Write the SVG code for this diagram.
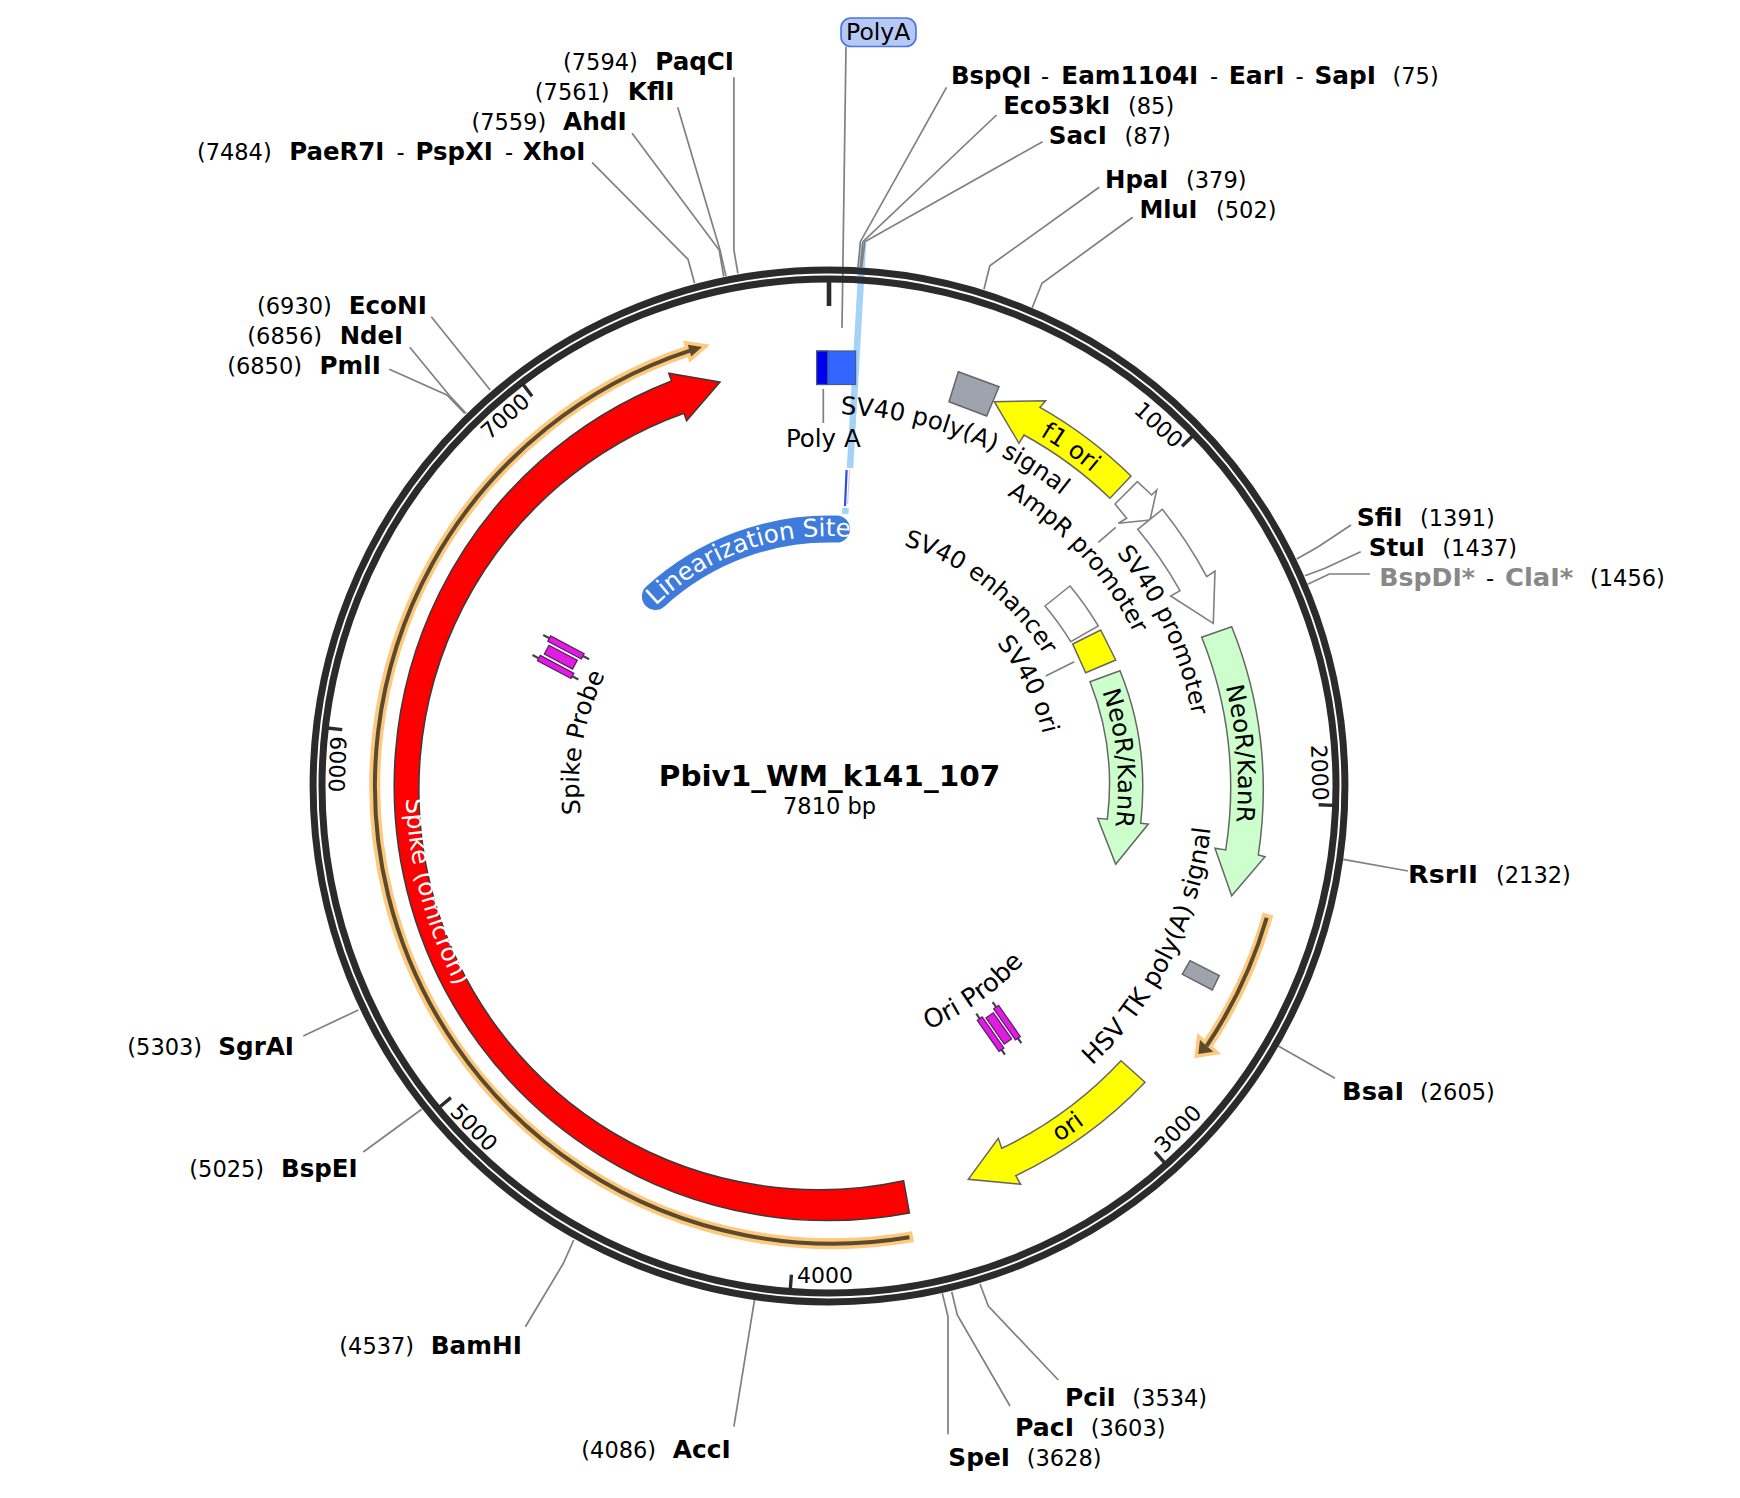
<svg xmlns="http://www.w3.org/2000/svg" width="1740" height="1498" viewBox="0 0 1740 1498">
<style>
text{font-family:"DejaVu Sans","Liberation Sans",sans-serif;fill:#000;font-size:22.5px}
.b{font-weight:bold;font-size:24px}
.g{fill:#888}
.c{font-size:24.5px}
.w{fill:#fff}
.m{text-anchor:middle}
.t{font-size:22px;text-anchor:middle}
.ring{fill:none;stroke:#2b2b2b}
.tick{stroke:#2b2b2b;stroke-width:3.4}
#connectors path{fill:none;stroke:#808080;stroke-width:1.7}
.feat{stroke:#666;stroke-width:1.5}
.halo{fill:none;stroke:#fcc97e;stroke-width:11}
.core{fill:none;stroke:#5c4a2c;stroke-width:4}
.hh{fill:#fcc97e;stroke:#fcc97e;stroke-width:7}
.hc{fill:#5c4a2c;stroke:none}
.stick{stroke:#444;stroke-width:2.2}
.pr{fill:#e01ce0;stroke:#5a1a6a;stroke-width:1.2}
</style>
<defs>
<path id="p-spike" d="M420.4 676.5A423 423 0 0 0 529.9 1085.1"/>
<path id="p-neo1" d="M1183.2 581.5A409 409 0 0 1 1210.8 932.6"/>
<path id="p-neo2" d="M1065.7 620.2A289 289 0 0 1 1093 903.5"/>
<path id="p-f1" d="M934.9 391A409 409 0 0 1 1168 557.3"/>
<path id="p-ori" d="M902.6 1203.6A424 424 0 0 0 1196.2 998"/>
<path id="p-lin" d="M612.5 661A250 250 0 0 1 918.6 552.6"/>
<path id="p-spr" d="M582.8 829.4A250 250 0 0 1 612.5 661"/>
<path id="p-opr" d="M874.7 1045A263 263 0 0 0 1056.8 917.5"/>
<path id="p-hsv" d="M1021 1118.6A384 384 0 0 0 1210.1 739.2"/>
<path id="p-sv40pa" d="M762.5 420A372 372 0 0 1 1116.9 550.4"/>
<path id="p-amp" d="M945.6 465.6A341 341 0 0 1 1158.4 697.7"/>
<path id="p-svp" d="M1066.8 502.6A370 370 0 0 1 1199 786"/>
<path id="p-sve" d="M829 534A252 252 0 0 1 1073.5 725"/>
<path id="p-svo" d="M970.4 617.5A220 220 0 0 1 1048.5 770.7"/>
</defs>

<g id="polyA-track">
<path d="M863 243L850 468" fill="none" stroke="#a5d2f7" stroke-width="6.5"/>
<path d="M846.6 470L845 506" fill="none" stroke="#2d4fe0" stroke-width="2.2"/>
<path d="M849.6 470L847.6 504" fill="none" stroke="#d8c0d0" stroke-width="1"/>
<path d="M845.6 508L845.2 514" fill="none" stroke="#a5d2f7" stroke-width="6.5"/>
</g>

<g id="connectors">
<path d="M858 267L860.4 241.7L946.5 87.3"/>
<path d="M860.4 267L863 241.7L996.5 115"/>
<path d="M861.7 267L864.8 241.7L1042.5 141.7"/>
<path d="M984 289.3L989.8 265.7L1099.2 187.3"/>
<path d="M1032.2 307.7L1042 283.3L1132.7 217.3"/>
<path d="M737.9 273.3L733.9 250L733.9 77.3"/>
<path d="M725.9 276L720 250L677.7 107.3"/>
<path d="M723.7 276.7L719.2 250L632.1 133.3"/>
<path d="M694.6 283.3L688 259.3L592 162.3"/>
<path d="M490.2 390L431.3 316.7"/>
<path d="M466 413.3L449 395L409.8 347.3"/>
<path d="M464.7 413.3L446.9 395L389.3 369.3"/>
<path d="M1296.7 559L1318.3 546.7L1351 525"/>
<path d="M1305 575.7L1325 568.3L1360.7 551.7"/>
<path d="M1307.7 584.3L1329.3 574L1370 574"/>
<path d="M1343.3 859.3L1408 871"/>
<path d="M1278.3 1046L1335 1078.3"/>
<path d="M358.3 1010L303.3 1036"/>
<path d="M421.7 1109.3L363.3 1152"/>
<path d="M573.7 1240L563.4 1263.3L525.4 1326.7"/>
<path d="M754.5 1300L733.9 1426.7"/>
<path d="M942.3 1293.3L948 1316.7L948 1434.3"/>
<path d="M951.7 1291.7L957.3 1315L1010 1406"/>
<path d="M980 1284L988.3 1306L1058.3 1380"/>
<path d="M846 46.7L842 328"/>
<path d="M823.3 389L823.3 423"/>
<path d="M1098.3 542.3L1115.7 527.3"/>
<path d="M1045.7 676L1074.3 661.7"/>
</g>

<g id="backbone">
<circle class="ring" cx="829" cy="786" r="515.9" stroke-width="7"/>
<circle class="ring" cx="829" cy="786" r="507" stroke-width="7"/>
<path d="M829 280V306" stroke="#2b2b2b" stroke-width="4.6"/>
<path class="tick" d="M829 281V296" transform="rotate(46.1 829 786)"/>
<path class="tick" d="M829 281V296" transform="rotate(92.2 829 786)"/>
<path class="tick" d="M829 281V296" transform="rotate(138.3 829 786)"/>
<path class="tick" d="M829 281V296" transform="rotate(184.4 829 786)"/>
<path class="tick" d="M829 281V296" transform="rotate(230.5 829 786)"/>
<path class="tick" d="M829 281V296" transform="rotate(276.6 829 786)"/>
<path class="tick" d="M829 281V296" transform="rotate(322.7 829 786)"/>
<text class="t" transform="translate(1153.6 430.5) rotate(42)">1000</text>
<text class="t" transform="translate(1312 773) rotate(88)">2000</text>
<text class="t" transform="translate(1183.5 1134) rotate(-46)">3000</text>
<text class="t" x="825" y="1283">4000</text>
<text class="t" transform="translate(468.5 1132.8) rotate(46)">5000</text>
<text class="t" transform="translate(329.5 764) rotate(92)">6000</text>
<text class="t" transform="translate(510.3 422) rotate(-41.3)">7000</text>
</g>

<g id="misc-long">
<path class="halo" d="M913 1236.7A458 458 0 0 1 690 350.6"/>
<path class="hh" d="M702 347L691.2 356.4L687.8 344.8Z"/>
<path class="core" d="M909.4 1237.3A458 458 0 0 1 690 350.6"/>
<path class="hc" d="M702 347L691.2 356.4L687.8 344.8Z"/>
</g>
<g id="misc-short">
<path class="halo" d="M1268 914A458 458 0 0 1 1206.7 1045.8"/>
<path class="hh" d="M1198.3 1054L1213.3 1051.7L1200 1040Z"/>
<path class="core" d="M1266.7 917.7A458 458 0 0 1 1206.7 1045.8"/>
<path class="hc" d="M1198.3 1054L1213.3 1051.7L1200 1040Z"/>
</g>

<g id="spike">
<path d="M903.6 1180.7A400 400 0 0 1 684 413.2L686.6 420.7L720 382L668.8 373.3L671.5 381A434.5 434.5 0 0 0 909.4 1213Z" fill="#f00" stroke="#3a3a3a" stroke-width="1.5"/>
<text class="c w m" style="font-size:25px"><textPath href="#p-spike" startOffset="50%">Spike (omicron)</textPath></text>
</g>
<g id="ori">
<path class="feat" d="M1121 1060.7A400 400 0 0 1 1001.7 1148.3L998.3 1138.3L968.3 1179.3L1020.7 1184.3L1015.7 1175.7A434 434 0 0 0 1145 1082.3Z" fill="#ff0"/>
<text class="c m"><textPath href="#p-ori" startOffset="50%">ori</textPath></text>
</g>
<g id="neor-outer">
<path class="feat" d="M1201.7 637.3A400 400 0 0 1 1225.7 850L1215 848.3L1231.7 895.7L1265 856.7L1258.3 855A434 434 0 0 0 1231.7 626.7Z" fill="#ccffcc"/>
<text class="c m"><textPath href="#p-neo1" startOffset="50%">NeoR/KanR</textPath></text>
</g>
<g id="neor-inner">
<path class="feat" d="M1090 681.7A280 280 0 0 1 1107.3 819.3L1097.7 818.3L1115.7 864.3L1148.3 824L1140.7 823.3A313 313 0 0 0 1120 670.7Z" fill="#ccffcc"/>
<text class="c m"><textPath href="#p-neo2" startOffset="50%">NeoR/KanR</textPath></text>
</g>
<g id="f1-ori">
<path class="feat" d="M1110 498.3A400 400 0 0 0 1024 435L1019 443.3L994.3 401.7L1045.7 400.7L1040 407.3A434 434 0 0 1 1131 476Z" fill="#ff0"/>
<text class="c m"><textPath href="#p-f1" startOffset="50%">f1 ori</textPath></text>
</g>
<g id="sv40-polya">
<path class="feat" d="M958.3 371.7L999 386.7L986.7 416L949 401.7Z" fill="#9ea3ad"/>
<text class="c m"><textPath href="#p-sv40pa" startOffset="50%">SV40 poly(A) signal</textPath></text>
</g>
<g id="ampr-promoter">
<path d="M1115 504L1137.3 481.7L1151.7 495L1156.7 490L1150 520L1118.3 523.3L1126.7 518.3Z" fill="#fff" stroke="#808080" stroke-width="1.6"/>
<text class="c m" style="font-size:24px"><textPath href="#p-amp" startOffset="50%">AmpR promoter</textPath></text>
</g>
<g id="sv40-promoter">
<path d="M1137.7 529.3L1162.3 509.3A433 433 0 0 1 1206.7 576.7L1215 571L1213.3 623.3L1170.7 596L1180 590.7A401 401 0 0 0 1137.7 529.3Z" fill="#fff" stroke="#808080" stroke-width="1.6"/>
<text class="c m" style="font-size:24px"><textPath href="#p-svp" startOffset="50%">SV40 promoter</textPath></text>
</g>
<g id="sv40-enhancer">
<path d="M1045 606L1070 586A313 313 0 0 1 1098.3 626L1070.7 641.7A281 281 0 0 0 1045 606Z" fill="#fff" stroke="#808080" stroke-width="1.6"/>
<text class="c m" style="font-size:24px"><textPath href="#p-sve" startOffset="50%">SV40 enhancer</textPath></text>
</g>
<g id="sv40-ori">
<path class="feat" d="M1072.7 644L1100.7 630L1115.7 660L1085.7 672.7Z" fill="#ff0"/>
<text class="c m"><textPath href="#p-svo" startOffset="50%">SV40 ori</textPath></text>
</g>
<g id="hsv-tk">
<path class="feat" d="M1190 960.7L1219.3 975.7L1212.3 990L1182.3 974.3Z" fill="#9ea3ad"/>
<text class="c m" style="font-size:25px"><textPath href="#p-hsv" startOffset="50%">HSV TK poly(A) signal</textPath></text>
</g>
<g id="poly-a">
<rect x="816.6" y="351" width="39" height="33.5" fill="#3366ff" stroke="#4a5a80" stroke-width="1.2"/>
<rect x="816.6" y="351" width="11.2" height="33.5" fill="#0000ee" stroke="#4a5a80" stroke-width="1.2"/>
<text class="c m" x="823.3" y="446.7">Poly A</text>
</g>
<g id="polya-tag">
<rect x="841" y="18" width="75" height="28.5" rx="10" fill="#b6c8f5" stroke="#4a76e0" stroke-width="1.6"/>
<text class="m" x="878.2" y="39.5" style="font-size:23.5px">PolyA</text>
</g>
<g id="linearization-site">
<path d="M655.4 596.5A257 257 0 0 1 836.5 529.1" fill="none" stroke="#3f7bdb" stroke-width="27" stroke-linecap="round"/>
<text class="c w m"><textPath href="#p-lin" startOffset="50%">Linearization Site</textPath></text>
</g>
<g id="spike-probe">
<g transform="translate(560.8 657.2) rotate(28)">
<path class="stick" d="M-26 -11.4H26M-26 11.4H26"/>
<rect class="pr" x="-19" y="-14" width="38" height="6"/>
<rect class="pr" x="-19" y="8" width="38" height="6"/>
<rect class="pr" x="-16" y="-5" width="32" height="10"/>
</g>
<text class="c m"><textPath href="#p-spr" startOffset="50%">Spike Probe</textPath></text>
</g>
<g id="ori-probe">
<g transform="translate(998.8 1028.4) rotate(55)">
<path class="stick" d="M-25 -10H25M-25 10H25"/>
<rect class="pr" x="-19" y="-13" width="38" height="6"/>
<rect class="pr" x="-19" y="7" width="38" height="6"/>
<rect class="pr" x="-16" y="-4.5" width="32" height="9"/>
</g>
<text class="c m" style="font-size:25.5px"><textPath href="#p-opr" startOffset="50%">Ori Probe</textPath></text>
</g>

<g id="title">
<text x="658.8" y="786" textLength="341.4" lengthAdjust="spacingAndGlyphs" style="font-weight:bold;font-size:29px">Pbiv1_WM_k141_107</text>
<text class="m" x="829.5" y="814">7810 bp</text>
</g>

<g id="sites" transform="translate(0 0.7)">
<g id="site-75"><text y="83.3"><tspan class="b" x="951" textLength="80.3" lengthAdjust="spacingAndGlyphs">BspQI</tspan> <tspan x="1041">-</tspan> <tspan class="b" x="1061.3" textLength="137" lengthAdjust="spacingAndGlyphs">Eam1104I</tspan> <tspan x="1210">-</tspan> <tspan class="b" x="1228.7" textLength="55.8" lengthAdjust="spacingAndGlyphs">EarI</tspan> <tspan x="1295.6">-</tspan> <tspan class="b" x="1314.4" textLength="61.6" lengthAdjust="spacingAndGlyphs">SapI</tspan> <tspan x="1392.5">(75)</tspan></text></g>
<g id="site-85"><text y="113.3"><tspan class="b" x="1003.2" textLength="107.2" lengthAdjust="spacingAndGlyphs">Eco53kI</tspan> <tspan x="1128">(85)</tspan></text></g>
<g id="site-87"><text y="143.3"><tspan class="b" x="1048.8" textLength="58" lengthAdjust="spacingAndGlyphs">SacI</tspan> <tspan x="1124.6">(87)</tspan></text></g>
<g id="site-379"><text y="187.3"><tspan class="b" x="1105" textLength="63.4" lengthAdjust="spacingAndGlyphs">HpaI</tspan> <tspan x="1186">(379)</tspan></text></g>
<g id="site-502"><text y="217.3"><tspan class="b" x="1139.4" textLength="58" lengthAdjust="spacingAndGlyphs">MluI</tspan> <tspan x="1216">(502)</tspan></text></g>
<g id="site-7594"><text y="69.3"><tspan x="563">(7594)</tspan> <tspan class="b" x="655.3" textLength="78.7" lengthAdjust="spacingAndGlyphs">PaqCI</tspan></text></g>
<g id="site-7561"><text y="99.3"><tspan x="534.8">(7561)</tspan> <tspan class="b" x="627.7" textLength="46.8" lengthAdjust="spacingAndGlyphs">KflI</tspan></text></g>
<g id="site-7559"><text y="129.3"><tspan x="471.4">(7559)</tspan> <tspan class="b" x="563" textLength="63.8" lengthAdjust="spacingAndGlyphs">AhdI</tspan></text></g>
<g id="site-7484"><text y="159.3"><tspan x="196.9">(7484)</tspan> <tspan class="b" x="289.3" textLength="95.1" lengthAdjust="spacingAndGlyphs">PaeR7I</tspan> <tspan x="396.4">-</tspan> <tspan class="b" x="415.6" textLength="77.3" lengthAdjust="spacingAndGlyphs">PspXI</tspan> <tspan x="505">-</tspan> <tspan class="b" x="522.8" textLength="62.5" lengthAdjust="spacingAndGlyphs">XhoI</tspan></text></g>
<g id="site-6930"><text y="313.3"><tspan x="257">(6930)</tspan> <tspan class="b" x="348.7" textLength="78.1" lengthAdjust="spacingAndGlyphs">EcoNI</tspan></text></g>
<g id="site-6856"><text y="343.3"><tspan x="247.3">(6856)</tspan> <tspan class="b" x="339.7" textLength="63.3" lengthAdjust="spacingAndGlyphs">NdeI</tspan></text></g>
<g id="site-6850"><text y="373.3"><tspan x="227.2">(6850)</tspan> <tspan class="b" x="319.6" textLength="61.2" lengthAdjust="spacingAndGlyphs">PmlI</tspan></text></g>
<g id="site-1391"><text y="525.7"><tspan class="b" x="1356.7" textLength="46" lengthAdjust="spacingAndGlyphs">SfiI</tspan> <tspan x="1420">(1391)</tspan></text></g>
<g id="site-1437"><text y="555.7"><tspan class="b" x="1368.7" textLength="56.3" lengthAdjust="spacingAndGlyphs">StuI</tspan> <tspan x="1442.3">(1437)</tspan></text></g>
<g id="site-1456"><text y="585.7"><tspan class="b g" x="1379.3" textLength="95.7" lengthAdjust="spacingAndGlyphs">BspDI*</tspan> <tspan x="1486">-</tspan> <tspan class="b g" x="1505" textLength="68.3" lengthAdjust="spacingAndGlyphs">ClaI*</tspan> <tspan x="1590">(1456)</tspan></text></g>
<g id="site-2132"><text y="882.2"><tspan class="b" x="1408" textLength="70" lengthAdjust="spacingAndGlyphs">RsrII</tspan> <tspan x="1496">(2132)</tspan></text></g>
<g id="site-2605"><text y="1099.3"><tspan class="b" x="1342" textLength="62" lengthAdjust="spacingAndGlyphs">BsaI</tspan> <tspan x="1420">(2605)</tspan></text></g>
<g id="site-5303"><text y="1054"><tspan x="127.3">(5303)</tspan> <tspan class="b" x="218.3" textLength="75.7" lengthAdjust="spacingAndGlyphs">SgrAI</tspan></text></g>
<g id="site-5025"><text y="1176"><tspan x="189.3">(5025)</tspan> <tspan class="b" x="281" textLength="76.7" lengthAdjust="spacingAndGlyphs">BspEI</tspan></text></g>
<g id="site-4537"><text y="1353.3"><tspan x="339.3">(4537)</tspan> <tspan class="b" x="430.8" textLength="91.1" lengthAdjust="spacingAndGlyphs">BamHI</tspan></text></g>
<g id="site-4086"><text y="1457.7"><tspan x="581.3">(4086)</tspan> <tspan class="b" x="672.8" textLength="58" lengthAdjust="spacingAndGlyphs">AccI</tspan></text></g>
<g id="site-3628"><text y="1465"><tspan class="b" x="948.3" textLength="61.7" lengthAdjust="spacingAndGlyphs">SpeI</tspan> <tspan x="1026.7">(3628)</tspan></text></g>
<g id="site-3603"><text y="1435.7"><tspan class="b" x="1015" textLength="59" lengthAdjust="spacingAndGlyphs">PacI</tspan> <tspan x="1090.7">(3603)</tspan></text></g>
<g id="site-3534"><text y="1405.7"><tspan class="b" x="1065" textLength="50.7" lengthAdjust="spacingAndGlyphs">PciI</tspan> <tspan x="1132.3">(3534)</tspan></text></g>
</g>
</svg>
